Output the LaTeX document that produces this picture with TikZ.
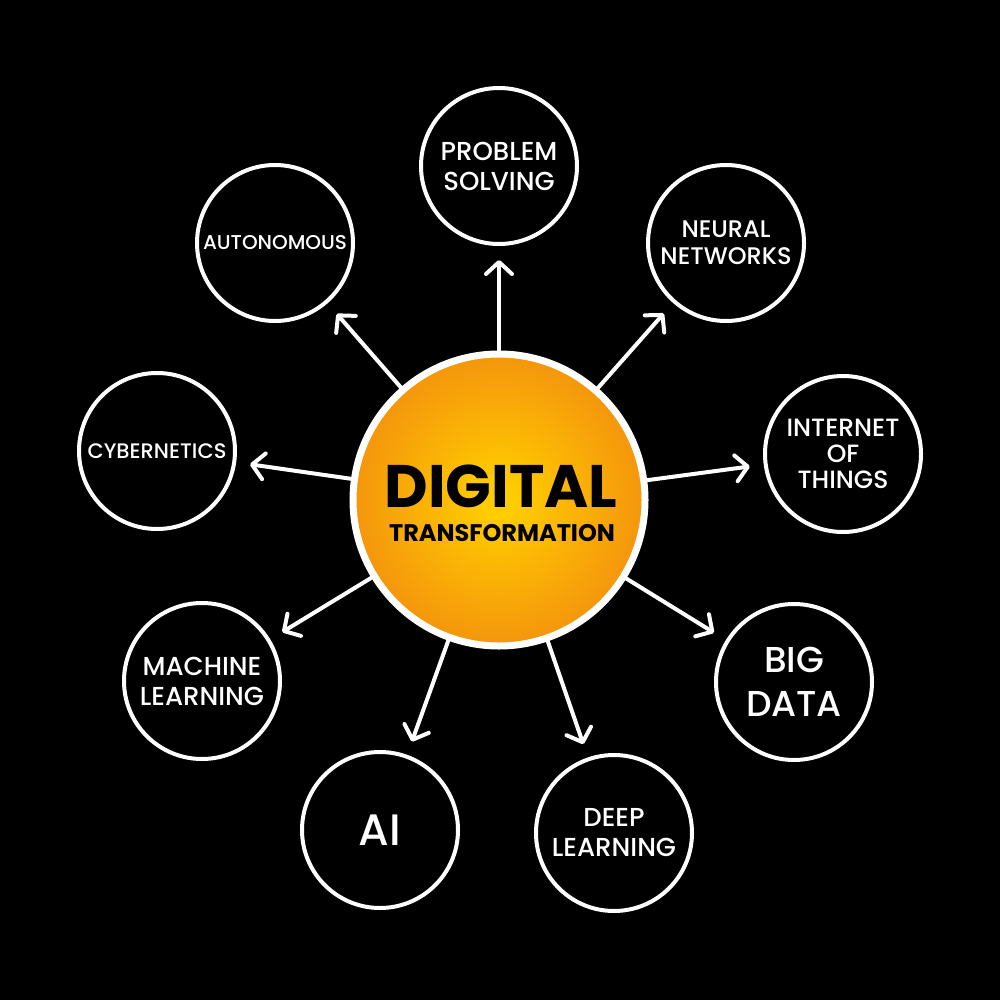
\documentclass[tikz,border=0pt]{standalone}
\usepackage{fontspec}
\setmainfont{Poppins}[UprightFont=* Medium, BoldFont=* Bold]
\usetikzlibrary{arrows.meta}
\definecolor{cIn}{RGB}{255,204,0}
\definecolor{cMid}{RGB}{250,176,6}
\definecolor{cOut}{RGB}{245,152,12}
\pgfdeclareradialshading{sun}{\pgfpoint{0bp}{0bp}}{color(0bp)=(cIn); color(3bp)=(cIn); color(14bp)=(cMid); color(24bp)=(cOut); color(50bp)=(cOut)}
\tikzset{
  bubble/.style={circle, draw=white, fill=black, line width=4pt, minimum size=156pt,
    inner sep=0pt, text=white, align=center, font=\fontsize{26}{30}\selectfont},
  link/.style={draw=white, line width=4pt, line cap=round,
    -{Straight Barb[length=12pt,width=26pt,round]}, shorten >=14pt},
  title/.style={text=black, inner sep=0pt},
}
\begin{document}
\begin{tikzpicture}[x=1pt,y=-1pt]
\fill[black] (0,0) rectangle (1000,1000);
\useasboundingbox (0,0) rectangle (1000,1000);
\node[circle, draw=white, line width=7pt, shading=sun, minimum size=292pt, inner sep=0pt] (c) at (499,500) {};
\node[title, font=\fontsize{60}{60}\selectfont\bfseries] (t1) at (501,486) {DIGITAL};
\node[title, font=\fontsize{24}{28}\selectfont\bfseries] (t2) at (502,533) {TRANSFORMATION};
\node[bubble] (ps) at (499,166) {PROBLEM\\SOLVING};
\node[bubble, font=\fontsize{24}{27}\selectfont] (nn) at (726,243) {NEURAL\\NETWORKS};
\node[bubble, font=\fontsize{20}{24}\selectfont] (au) at (275,243) {AUTONOMOUS};
\node[bubble, font=\fontsize{21}{24}\selectfont] (cy) at (157,451) {CYBERNETICS};
\node[bubble, font=\fontsize{25}{26}\selectfont] (io) at (843,454) {INTERNET\\OF\\THINGS};
\node[bubble, font=\fontsize{36}{44}\selectfont] (bd) at (794,682) {BIG\\DATA};
\node[bubble] (ml) at (202,681) {MACHINE\\LEARNING};
\node[bubble, font=\fontsize{44}{48}\selectfont] (ai) at (380,830) {AI};
\node[bubble] (dl) at (614,833) {DEEP\\LEARNING};
\foreach \t in {ps,nn,au,cy,io,bd,ml,ai,dl}
  \draw[link] (c) -- (\t);
\end{tikzpicture}
\end{document}
